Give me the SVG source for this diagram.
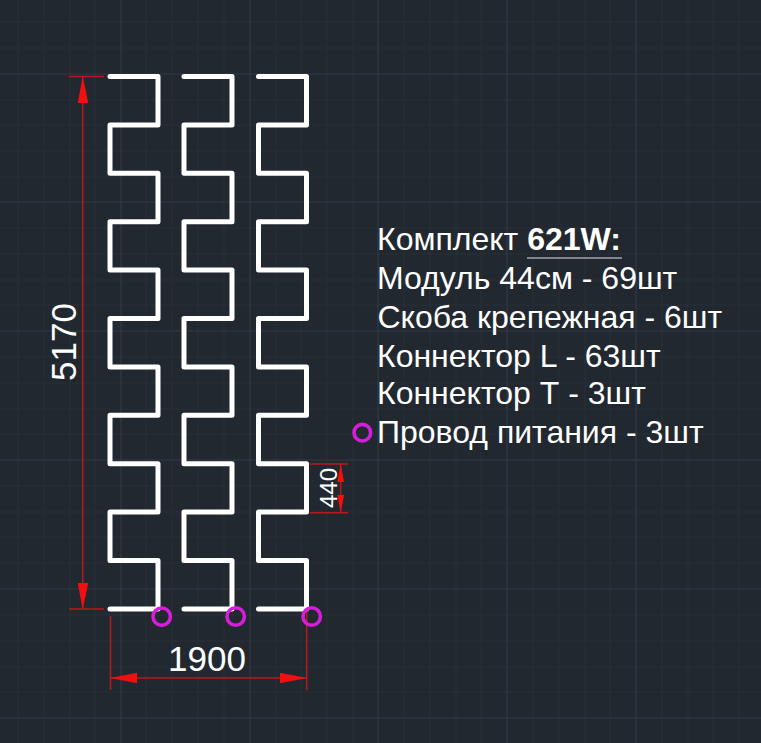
<svg xmlns="http://www.w3.org/2000/svg" width="761" height="743" viewBox="0 0 761 743">
<defs>
<style>
.bg{fill:#212830}
.minor{fill:none;stroke:#262d35;stroke-width:1.5}
.major{fill:none;stroke:#323942;stroke-width:1.2}
.snake{fill:none;stroke:#ffffff;stroke-width:5;stroke-linecap:round;stroke-linejoin:round}
.dim{fill:none;stroke:#b51a1c;stroke-width:1.5}
.head{fill:#f10f10;stroke:none}
.ring{fill:none;stroke:#d41ed8;stroke-width:3.6}
text{font-family:"Liberation Sans",Arial,sans-serif;fill:#ffffff}
.list{font-size:32px}
.big{font-size:35px}
.small{font-size:24px}
</style>
<path id="snakePath" d="M110 76.5H158V124.9H110V173.3H158V221.7H110V270.1H158V318.5H110V366.9H158V415.3H110V463.7H158V512.1H110V560.5H158V608.9H110"/>
</defs>
<rect class="bg" width="761" height="743"/>
<g id="grid">
<path class="minor" d="M18 0V743M44 0V743M70 0V743M95 0V743M146 0V743M172 0V743M198 0V743M224 0V743M276 0V743M301 0V743M327 0V743M353 0V743M404 0V743M430 0V743M456 0V743M481 0V743M533 0V743M559 0V743M585 0V743M610 0V743M662 0V743M688 0V743M713 0V743M739 0V743M0 22H761M0 48H761M0 100H761M0 125H761M0 151H761M0 177H761M0 228H761M0 254H761M0 280H761M0 305H761M0 357H761M0 383H761M0 409H761M0 434H761M0 486H761M0 512H761M0 537H761M0 563H761M0 615H761M0 641H761M0 667H761M0 692H761"/>
<path class="major" d="M121 0V743M250 0V743M378 0V743M507 0V743M636 0V743M0 74H761M0 202H761M0 331H761M0 460H761M0 589H761M0 718H761"/>
</g>
<g id="connectors">
<path class="dim" d="M69 76.5H104M69 609H104M82.7 76.5V609"/>
<path class="head" d="M82.7 76L77.7 103H88.3ZM82.7 609.5L77.7 583H88.3Z"/>
<path class="dim" d="M110.5 616V690M306.7 609V690M110.5 678H306.7"/>
<path class="head" d="M110 678L137 672.7V683.3ZM307 678L280 672.7V683.3Z"/>
<path class="dim" d="M310 464H348M310 512.7H348M340.7 464V512.7"/>
<path class="head" d="M340.7 464L337.3 482H344.1ZM340.7 512.7L337.3 495H344.1Z"/>
</g>
<g id="module-1"><use href="#snakePath" class="snake"/><circle class="ring" cx="161.7" cy="616.7" r="8.7"/></g>
<g id="module-2"><use href="#snakePath" class="snake" x="74"/><circle class="ring" cx="235.7" cy="616.5" r="8.7"/></g>
<g id="module-3"><use href="#snakePath" class="snake" x="148.5"/><circle class="ring" cx="311.7" cy="616.5" r="8.7"/></g>
<g id="dimensions">
<text class="big" x="207" y="670.5" text-anchor="middle">1900</text>
<text class="big" transform="translate(75.5 342) rotate(-90)" text-anchor="middle">5170</text>
<text class="small" transform="translate(337 488) rotate(-90)" text-anchor="middle">440</text>
</g>
<g id="legend">
<text class="list" x="377" y="250">Комплект <tspan font-weight="bold">621W:</tspan></text>
<path d="M527 258H622" fill="none" stroke="#dfe2e4" stroke-width="1"/>
<text class="list" x="377" y="289">Модуль 44см - 69шт</text>
<text class="list" x="377.5" y="328">Скоба крепежная - 6шт</text>
<text class="list" x="377" y="367">Коннектор L - 63шт</text>
<text class="list" x="377" y="404">Коннектор Т - 3шт</text>
<text class="list" x="377" y="443">Провод питания - 3шт</text>
<circle class="ring" cx="362.3" cy="432.7" r="8.3"/>
</g>
</svg>
